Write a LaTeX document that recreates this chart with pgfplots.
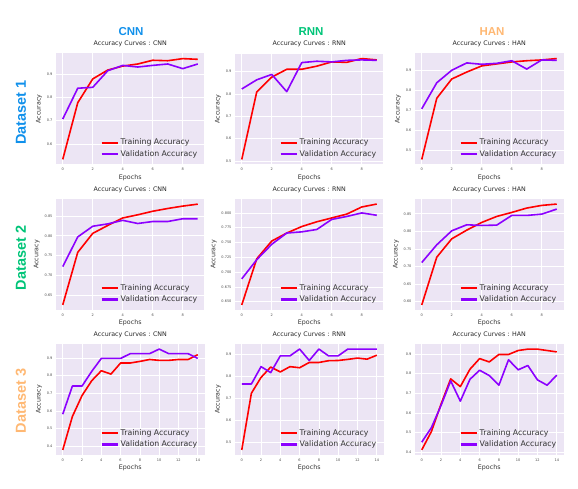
\documentclass[border=0pt]{standalone}
\usepackage{fontspec}
\setmainfont{DejaVu Sans}
\newfontfamily\hdr{Liberation Sans}
\usepackage{pgfplots}
\pgfplotsset{compat=1.18}
\definecolor{bgc}{RGB}{236,229,244}
\definecolor{trainc}{RGB}{255,0,0}
\definecolor{valc}{RGB}{140,0,255}
\definecolor{cnnc}{RGB}{16,144,235}
\definecolor{rnnc}{RGB}{0,196,120}
\definecolor{hanc}{RGB}{255,184,115}
\pgfplotsset{
 sub/.style={
  scale only axis, width=148.5pt, height=111pt, anchor=south west,
  axis background/.style={fill=bgc},
  axis line style={draw=none},
  grid=major, grid style={white, line width=0.6pt},
  major tick length=0pt,
  tick label style={font=\fontsize{3.5}{4}\selectfont, text=black!70},
  /pgf/number format/assume math mode=true,
  title style={font=\fontsize{6.3}{7}\selectfont, text=black!85, yshift=-3pt},
  label style={font=\fontsize{6.3}{7}\selectfont, text=black!80},
  xlabel={Epochs}, ylabel={Accuracy},
  xlabel style={yshift=3pt}, ylabel style={yshift=-2pt},
  legend style={at={(1,0)}, anchor=south east, xshift=-2pt, yshift=2.5pt, draw=none, fill=none, font=\fontsize{7.8}{8.5}\selectfont, text=black!80, row sep=0pt},
  legend cell align=left,
  legend image code/.code={\draw[#1, line width=2.2pt] (0pt,0pt) -- (16pt,0pt);},
 },
 tr/.style={color=trainc, line width=1.6pt, line join=round},
 va/.style={color=valc, line width=1.6pt, line join=round},
 ep10/.style={xmin=-0.45,xmax=9.45,xtick={0,2,4,6,8}},
 ep15/.style={xmin=-0.7,xmax=14.7,xtick={0,2,4,6,8,10,12,14}},
 p1/.style={yticklabel style={/pgf/number format/.cd, fixed, fixed zerofill, precision=1}},
 p2/.style={yticklabel style={/pgf/number format/.cd, fixed, fixed zerofill, precision=2}},
 p3/.style={yticklabel style={/pgf/number format/.cd, fixed, fixed zerofill, precision=3}},
}
\begin{document}
\begin{tikzpicture}
\useasboundingbox (0pt,0pt) rectangle (578pt,488pt);
% headers
\node[font=\hdr\bfseries\fontsize{11.5}{12}\selectfont, text=cnnc] at (131pt,456pt) {CNN};
\node[font=\hdr\bfseries\fontsize{11.5}{12}\selectfont, text=rnnc] at (311pt,456pt) {RNN};
\node[font=\hdr\bfseries\fontsize{11.5}{12}\selectfont, text=hanc] at (492pt,456pt) {HAN};
\node[font=\hdr\bfseries\fontsize{14.5}{15}\selectfont, text=cnnc, rotate=90] at (21pt,375.5pt) {Dataset 1};
\node[font=\hdr\bfseries\fontsize{14.5}{15}\selectfont, text=rnnc, rotate=90] at (21pt,230pt) {Dataset 2};
\node[font=\hdr\bfseries\fontsize{14.5}{15}\selectfont, text=hanc, rotate=90] at (21pt,87pt) {Dataset 3};

% Row 1
\begin{axis}[sub, ep10, p1, at={(56pt,323.5pt)}, ymin=0.512, ymax=0.988, ytick={0.6,0.7,0.8,0.9}, title={Accuracy Curves : CNN}]
\addplot[tr] coordinates {(0,0.534)(1,0.777)(2,0.879)(3,0.917)(4,0.934)(5,0.943)(6,0.959)(7,0.957)(8,0.966)(9,0.963)};
\addlegendentry{Training Accuracy}
\addplot[va] coordinates {(0,0.707)(1,0.839)(2,0.843)(3,0.914)(4,0.937)(5,0.930)(6,0.937)(7,0.943)(8,0.923)(9,0.943)};
\addlegendentry{Validation Accuracy}
\end{axis}
\begin{axis}[sub, ep10, p1, at={(235pt,323.5pt)}, ymin=0.4845, ymax=0.9806, ytick={0.5,0.6,0.7,0.8,0.9}, title={Accuracy Curves : RNN}]
\addplot[tr] coordinates {(0,0.507)(1,0.809)(2,0.875)(3,0.910)(4,0.910)(5,0.924)(6,0.943)(7,0.941)(8,0.958)(9,0.952)};
\addlegendentry{Training Accuracy}
\addplot[va] coordinates {(0,0.822)(1,0.863)(2,0.887)(3,0.810)(4,0.940)(5,0.946)(6,0.943)(7,0.950)(8,0.952)(9,0.950)};
\addlegendentry{Validation Accuracy}
\end{axis}
\begin{axis}[sub, ep10, p1, at={(415pt,323.5pt)}, ymin=0.4276, ymax=0.9864, ytick={0.5,0.6,0.7,0.8,0.9}, title={Accuracy Curves : HAN}]
\addplot[tr] coordinates {(0,0.453)(1,0.761)(2,0.858)(3,0.893)(4,0.924)(5,0.934)(6,0.944)(7,0.950)(8,0.954)(9,0.961)};
\addlegendentry{Training Accuracy}
\addplot[va] coordinates {(0,0.708)(1,0.839)(2,0.902)(3,0.939)(4,0.932)(5,0.937)(6,0.950)(7,0.908)(8,0.954)(9,0.952)};
\addlegendentry{Validation Accuracy}
\end{axis}

% Row 2
\begin{axis}[sub, ep10, p2, at={(56pt,178pt)}, ymin=0.612, ymax=0.893, ytick={0.65,0.70,0.75,0.80,0.85}, title={Accuracy Curves : CNN}]
\addplot[tr] coordinates {(0,0.625)(1,0.758)(2,0.806)(3,0.826)(4,0.845)(5,0.853)(6,0.862)(7,0.869)(8,0.875)(9,0.880)};
\addlegendentry{Training Accuracy}
\addplot[va] coordinates {(0,0.722)(1,0.797)(2,0.824)(3,0.830)(4,0.839)(5,0.831)(6,0.836)(7,0.836)(8,0.843)(9,0.843)};
\addlegendentry{Validation Accuracy}
\end{axis}
\begin{axis}[sub, ep10, p3, at={(235pt,178pt)}, ymin=0.636, ymax=0.8235, ytick={0.650,0.675,0.700,0.725,0.750,0.775,0.800}, title={Accuracy Curves : RNN}]
\addplot[tr] coordinates {(0,0.6445)(1,0.7225)(2,0.7525)(3,0.766)(4,0.777)(5,0.785)(6,0.7915)(7,0.798)(8,0.810)(9,0.815)};
\addlegendentry{Training Accuracy}
\addplot[va] coordinates {(0,0.6886)(1,0.721)(2,0.747)(3,0.766)(4,0.768)(5,0.772)(6,0.789)(7,0.794)(8,0.800)(9,0.796)};
\addlegendentry{Validation Accuracy}
\end{axis}
\begin{axis}[sub, ep10, p2, at={(415pt,178pt)}, ymin=0.5761, ymax=0.892, ytick={0.60,0.65,0.70,0.75,0.80,0.85}, title={Accuracy Curves : HAN}]
\addplot[tr] coordinates {(0,0.5905)(1,0.7264)(2,0.7787)(3,0.8034)(4,0.8253)(5,0.8424)(6,0.8538)(7,0.8662)(8,0.8738)(9,0.8776)};
\addlegendentry{Training Accuracy}
\addplot[va] coordinates {(0,0.7112)(1,0.7616)(2,0.8015)(3,0.8186)(4,0.8167)(5,0.8177)(6,0.8452)(7,0.8452)(8,0.8490)(9,0.8633)};
\addlegendentry{Validation Accuracy}
\end{axis}

% Row 3
\begin{axis}[sub, ep15, p1, at={(56pt,33pt)}, ymin=0.349, ymax=0.980, ytick={0.4,0.5,0.6,0.7,0.8,0.9}, title={Accuracy Curves : CNN}]
\addplot[tr] coordinates {(0,0.378)(1,0.568)(2,0.687)(3,0.771)(4,0.828)(5,0.809)(6,0.872)(7,0.872)(8,0.881)(9,0.892)(10,0.887)(11,0.887)(12,0.892)(13,0.892)(14,0.919)};
\addlegendentry{Training Accuracy}
\addplot[va] coordinates {(0,0.581)(1,0.741)(2,0.741)(3,0.824)(4,0.898)(5,0.898)(6,0.898)(7,0.925)(8,0.925)(9,0.925)(10,0.951)(11,0.925)(12,0.925)(13,0.925)(14,0.898)};
\addlegendentry{Validation Accuracy}
\end{axis}
\begin{axis}[sub, ep15, p1, at={(235pt,33pt)}, ymin=0.441, ymax=0.946, ytick={0.5,0.6,0.7,0.8,0.9}, title={Accuracy Curves : RNN}]
\addplot[tr] coordinates {(0,0.464)(1,0.722)(2,0.794)(3,0.841)(4,0.819)(5,0.843)(6,0.838)(7,0.862)(8,0.862)(9,0.870)(10,0.871)(11,0.876)(12,0.882)(13,0.877)(14,0.895)};
\addlegendentry{Training Accuracy}
\addplot[va] coordinates {(0,0.764)(1,0.764)(2,0.843)(3,0.816)(4,0.892)(5,0.892)(6,0.923)(7,0.871)(8,0.923)(9,0.892)(10,0.892)(11,0.923)(12,0.923)(13,0.923)(14,0.923)};
\addlegendentry{Validation Accuracy}
\end{axis}
\begin{axis}[sub, ep15, p1, at={(415pt,33pt)}, ymin=0.387, ymax=0.950, ytick={0.4,0.5,0.6,0.7,0.8,0.9}, title={Accuracy Curves : HAN}, ylabel={}]
\addplot[tr] coordinates {(0,0.413)(1,0.506)(2,0.645)(3,0.773)(4,0.734)(5,0.822)(6,0.876)(7,0.859)(8,0.897)(9,0.897)(10,0.917)(11,0.924)(12,0.924)(13,0.917)(14,0.910)};
\addlegendentry{Training Accuracy}
\addplot[va] coordinates {(0,0.452)(1,0.526)(2,0.638)(3,0.763)(4,0.660)(5,0.771)(6,0.817)(7,0.790)(8,0.741)(9,0.870)(10,0.819)(11,0.841)(12,0.768)(13,0.741)(14,0.792)};
\addlegendentry{Validation Accuracy}
\end{axis}
\end{tikzpicture}
\end{document}
